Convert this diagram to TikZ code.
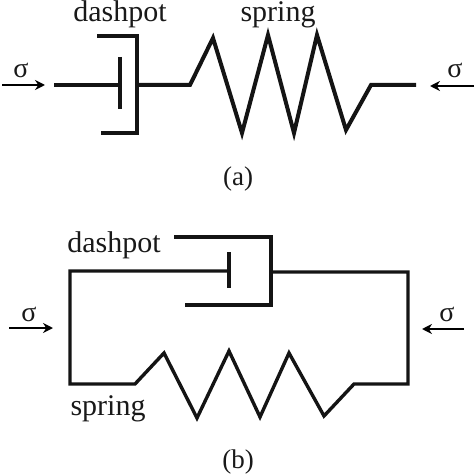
\documentclass[tikz,border=0pt]{standalone}
\usepackage{fontspec}
\setmainfont{Liberation Serif}
\usetikzlibrary{arrows.meta}
\tikzset{
  lbl/.style={inner sep=0pt,anchor=base,font=\fontsize{30}{30}\selectfont,text=black!90},
  captext/.style={inner sep=0pt,anchor=base,font=\fontsize{27}{27}\selectfont,text=black!90},
  sig/.style={inner sep=0pt,anchor=base,font=\fontsize{28}{28}\selectfont,text=black!90},
  wire/.style={line width=4pt,line join=miter,line cap=butt,draw=black!92},
  wireb/.style={line width=3.4pt,line join=miter,line cap=butt,draw=black!92},
  force/.style={line width=2.2pt,draw=black,-{Stealth[length=10pt,width=10pt]}}
}
\begin{document}
\begin{tikzpicture}[x=1pt,y=-1pt]
\useasboundingbox (0,0) rectangle (474,476);
% (a)
\node[lbl] (da) at (120,22) {dashpot};
\node[lbl] (sa) at (278,22) {spring};
\node[sig] (s1) at (21,78) {σ};
\node[sig] (s2) at (455,78) {σ};
\node[captext] (capa) at (238,185) {(a)};
\coordinate (a1) at (2,85);\coordinate (a2) at (45,85);
\coordinate (a3) at (474,86);\coordinate (a4) at (430,86);
\draw[force] (a1) -- (a2);
\draw[force] (a3) -- (a4);
\coordinate (pa) at (120,85);
\coordinate (pat) at (120,57);\coordinate (pab) at (120,109);
\coordinate (ra) at (137,85);
\draw[wire] (54,85) -- (pa);
\draw[wire] (pat) -- (pab);
\draw[wire] (97,36) -- (137,36) -- (137,133) -- (101,133);
\draw[wire] (ra) -- (190,85) -- (213,38) -- (242,133) -- (268,35) -- (294,133) -- (317,35) -- (346,130) -- (371,85) -- (416,85);
% (b)
\node[lbl] (db) at (114,252) {dashpot};
\node[lbl] (sb) at (108,415) {spring};
\node[sig] (s3) at (29,321) {σ};
\node[sig] (s4) at (447,321) {σ};
\node[captext] (capb) at (238,468) {(b)};
\coordinate (b1) at (9,328);\coordinate (b2) at (53,328);
\coordinate (b3) at (464,329);\coordinate (b4) at (422,329);
\draw[force] (b1) -- (b2);
\draw[force] (b3) -- (b4);
\coordinate (pb) at (229,271);
\draw[wireb] (pb) -- (70,271) -- (70,384) -- (135,384) -- (164,353) -- (197,418) -- (229,351) -- (260,417) -- (289,353) -- (324,416) -- (354,384) -- (408,384) -- (408,272) -- (271,272);
\draw[wire] (229,252) -- (229,288);
\draw[wireb] (174,237) -- (271,237) -- (271,305) -- (185,305);
\end{tikzpicture}
\end{document}
